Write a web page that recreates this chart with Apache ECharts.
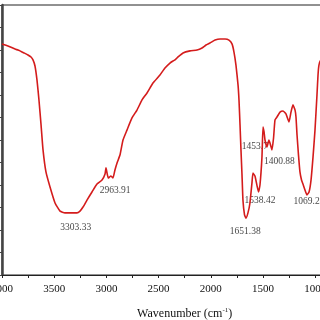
<!DOCTYPE html>
<html><head><meta charset="utf-8">
<script src="https://cdn.jsdelivr.net/npm/echarts@6/dist/echarts.min.js"></script>
<style>html,body{margin:0;padding:0;background:#fff}#c{width:320px;height:320px}</style>
</head><body><div id="c"></div>
<script>
// Wavenumber (cm-1) and transmittance (arbitrary units)
var wavenumber = [4000,3943,3875,3847,3828,3789,3751,3722,3703,3684,3665,3646,3626,3607,3579,3540,3492,3444,3397,3349,3282,3253,3224,3186,3138,3090,3042,3013,3004,2982,2956,2937,2918,2898,2870,2841,2803,2755,2707,2659,2611,2554,2487,2439,2391,2362,2343,2314,2266,2199,2132,2084,2046,2008,1959,1911,1863,1826,1797,1778,1759,1739,1730,1720,1711,1701,1692,1677,1663,1644,1625,1605,1596,1577,1557,1543,1529,1510,1500,1490,1481,1462,1443,1428,1414,1399,1385,1366,1337,1308,1280,1251,1232,1213,1193,1184,1174,1160,1146,1131,1117,1098,1079,1059,1040,1021,1002,983,973,964,945,907];
var transmittance = [10.27,10.18,10.04,10.0,9.96,9.87,9.78,9.69,9.56,9.29,8.67,7.78,6.67,5.56,4.58,3.91,3.2,2.84,2.76,2.76,2.76,2.84,3.02,3.33,3.69,4.04,4.22,4.49,4.76,4.31,4.4,4.31,4.67,4.98,5.33,6.0,6.44,6.98,7.33,7.78,8.09,8.53,8.89,9.2,9.42,9.51,9.56,9.69,9.87,9.96,10.0,10.09,10.22,10.31,10.44,10.49,10.49,10.44,10.27,9.91,9.33,8.44,7.78,6.67,5.56,4.44,3.33,2.67,2.53,2.76,3.2,4.13,4.53,4.4,3.96,3.69,4.0,5.24,6.58,6.36,6.0,5.69,6.0,5.78,5.56,6.09,6.89,7.02,7.24,7.29,7.16,6.8,7.24,7.56,7.33,7.02,6.22,5.33,4.58,4.22,4.04,3.78,3.56,3.69,4.22,5.24,6.44,8.0,8.89,9.33,9.56,9.64];
var peakLabels = ['3303.33','2963.91','1651.38','1538.42','1453.7','1400.88','1069.24'];
var peakWavenumber = [3303.33,2963.91,1651.38,1538.42,1453.7,1400.88,1069.24];
var peakValue = [2.76,4.36,2.53,3.69,5.69,5.56,3.56];
var xTickLabels = [4000,3500,3000,2500,2000,1500,1000,500];

var labelOffsets = [[1,15],[5,14],[-2,13],[1,9],[-13,0],[6,12],[1,7]];

var lineData = wavenumber.map(function(w,i){return [w, transmittance[i]];});
var peakData = peakWavenumber.map(function(w,i){
  return {value:[w, peakValue[i]], name:peakLabels[i],
    label:{offset:labelOffsets[i]}};
});

var chart = echarts.init(document.getElementById('c'), null, {renderer:'canvas'});
chart.setOption({
  animation:false,
  backgroundColor:'#fff',
  grid:{left:2, top:5, width:365.4, height:270, show:true, borderColor:'#222', borderWidth:1,
        containLabel:false, outerBoundsMode:'none'},
  xAxis:{
    type:'value', inverse:true, min:500, max:4000, interval:250,
    axisLine:{show:true, onZero:false, lineStyle:{color:'#222', width:1}},
    axisTick:{show:true, inside:false, length:3, lineStyle:{color:'#222', width:1}},
    splitLine:{show:false},
    axisLabel:{margin:9, fontFamily:'Liberation Serif', fontSize:11, color:'#111', hideOverlap:false,
      showMinLabel:true, showMaxLabel:true,
      formatter:function(v){return xTickLabels.indexOf(v)>=0 ? String(v) : '';}},
    name:'{t|Wavenumber (cm}{s|-1}{t|)}',
    nameLocation:'middle', nameGap:32,
    nameTextStyle:{rich:{
      t:{fontFamily:'Liberation Serif', fontSize:12, color:'#111'},
      s:{fontFamily:'Liberation Serif', fontSize:7, color:'#111', verticalAlign:'top', padding:[0,0,6,0]}
    }}
  },
  yAxis:{
    type:'value', min:0, max:12, interval:1,
    axisLine:{show:true, lineStyle:{color:'#444', width:2.5}},
    axisTick:{show:true, inside:false, length:3, lineStyle:{color:'#444'}},
    axisLabel:{show:false},
    splitLine:{show:false}
  },
  series:[
    {type:'line', data:lineData, showSymbol:false, symbol:'none', smooth:0.15,
     lineStyle:{color:'#d41c1c', width:1.6}, clip:true},
    {type:'scatter', data:peakData, symbolSize:0, silent:true,
     label:{show:true, position:'inside', formatter:function(p){return p.name;},
       fontFamily:'Liberation Serif', fontSize:9.5, color:'#111', align:'center', verticalAlign:'middle'}}
  ]
});
</script></body></html>
